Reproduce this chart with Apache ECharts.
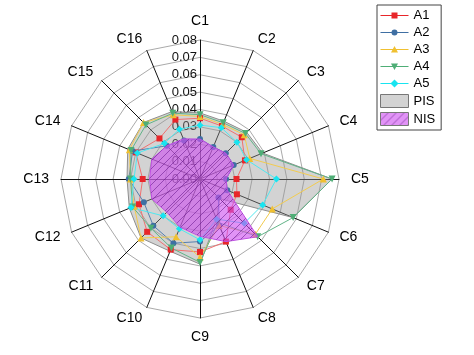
<!DOCTYPE html>
<html><head><meta charset="utf-8">
<script src="https://cdn.jsdelivr.net/npm/echarts@6/dist/echarts.min.js"></script>
<style>html,body{margin:0;padding:0;background:#fff}#c{width:474px;height:355px}</style>
</head><body><div id="c"></div>
<script>
// Categories (clockwise from top)
const categories = ['C1','C2','C3','C4','C5','C6','C7','C8','C9','C10','C11','C12','C13','C14','C15','C16'];
// Radial tick values
const radialTicks = [0.00,0.01,0.02,0.03,0.04,0.05,0.06,0.07,0.08];
// Series values, C1..C16
const A1  = [0.035,0.033,0.034,0.028,0.021,0.023,0.025,0.039,0.042,0.044,0.043,0.038,0.033,0.040,0.033,0.037];
const A2  = [0.023,0.020,0.021,0.021,0.015,0.017,0.015,0.029,0.036,0.040,0.038,0.035,0.041,0.042,0.027,0.024];
const A3  = [0.036,0.034,0.036,0.031,0.071,0.045,0.045,0.029,0.045,0.036,0.048,0.041,0.040,0.044,0.046,0.040];
const A4  = [0.037,0.035,0.037,0.038,0.076,0.058,0.047,0.027,0.048,0.043,0.040,0.042,0.040,0.043,0.044,0.041];
const A5  = [0.031,0.032,0.030,0.029,0.044,0.039,0.036,0.025,0.035,0.031,0.030,0.043,0.038,0.039,0.029,0.031];
const PIS = [0.038,0.036,0.038,0.039,0.076,0.058,0.016,0.025,0.049,0.045,0.048,0.044,0.042,0.045,0.046,0.042];
const NIS = [0.023,0.020,0.021,0.021,0.015,0.017,0.047,0.039,0.033,0.030,0.027,0.030,0.029,0.030,0.027,0.025];
const names = ['A1','A2','A3','A4','A5','PIS','NIS'];

// ECharts radar runs counter-clockwise; reorder so C1..C16 run clockwise
const cw = arr => [arr[0]].concat(arr.slice(1).reverse());

// hatch pattern for NIS
function hatch(){
  const c = document.createElement('canvas'); c.width = 8; c.height = 8;
  const g = c.getContext('2d');
  g.fillStyle = 'rgba(206,80,240,0.62)'; g.fillRect(0,0,8,8);
  g.strokeStyle = 'rgba(100,20,140,0.55)'; g.lineWidth = 1;
  g.beginPath();
  g.moveTo(-1,9); g.lineTo(9,-1);
  g.moveTo(-1,1); g.lineTo(1,-1);
  g.moveTo(7,9); g.lineTo(9,7);
  g.stroke();
  return {image: c, repeat: 'repeat'};
}
const hatchFill = hatch();

const colors = {A1:'#e8262a', A2:'#3f6fa3', A3:'#f0c030', A4:'#4fae76', A5:'#18e4f0'};
const lineColors = {A1:'#f07070', A2:'#5580b0', A3:'#f2cc50', A4:'#62b488', A5:'#50e8f0'};
const symbols = {A1:'rect', A2:'circle', A3:'triangle', A4:'triangle', A5:'diamond'};
const symSize = {A1:6, A2:6, A3:7, A4:7, A5:7};
const data = {A1, A2, A3, A4, A5};

const anchor = 'M0,0L0.01,0L0,0.01Z M28,13L27.99,13L28,12.99Z ';
const lineBar = 'M0,5.9H28V7.1H0Z ';
const iconMark = {
  A1: 'M11,3.5H17V9.5H11Z',
  A2: 'M17,6.5A3,3 0 1 1 11,6.5A3,3 0 1 1 17,6.5Z',
  A3: 'M14,3L17.5,9.5L10.5,9.5Z',
  A4: 'M10.5,3.5L17.5,3.5L14,10Z',
  A5: 'M14,2.5L18,6.5L14,10.5L10,6.5Z'
};

const series = [];
series.push({
  type:'radar', z:2, name:'PIS', symbol:'none',
  lineStyle:{color:'#8c8c8c', width:1},
  itemStyle:{color:'#c8c8c8'},
  areaStyle:{color:'rgba(150,150,150,0.42)', opacity:1},
  data:[{name:'PIS', value: cw(PIS)}]
});
['A1','A2','A3','A4','A5'].forEach(n => {
  series.push({
    type:'radar', z:3, name:n, symbol: symbols[n], symbolSize: symSize[n],
    symbolRotate: n === 'A4' ? 180 : 0,
    lineStyle:{color: lineColors[n], width:1},
    itemStyle:{color: colors[n]},
    data:[{name:n, value: cw(data[n])}]
  });
});
series.push({
  type:'radar', z:4, name:'NIS', symbol:'none',
  lineStyle:{color:'#b850dc', width:1},
  itemStyle:{color:'#d070f0'},
  areaStyle:{color: hatchFill, opacity:1},
  data:[{name:'NIS', value: cw(NIS)}]
});

const legendData = names.map(n => {
  if (n === 'PIS') return {name:n, icon:'rect', itemStyle:{color:'#d3d3d3', borderColor:'#777', borderWidth:1}};
  if (n === 'NIS') return {name:n, icon:'rect', itemStyle:{color: hatchFill, borderColor:'#777', borderWidth:1}};
  return {name:n, icon:'path://' + anchor + lineBar + iconMark[n],
    itemStyle:{color: colors[n], borderWidth:0}};
});

const chart = echarts.init(document.getElementById('c'), null, {renderer:'canvas'});
chart.setOption({
  animation:false,
  backgroundColor:'#fff',
  textStyle:{fontFamily:'Liberation Sans, Arial, sans-serif'},
  legend:{
    orient:'vertical', left:377, top:5,
    padding:[4,6,4,3], itemWidth:28, itemHeight:13, itemGap:4,
    borderColor:'#444', borderWidth:1, backgroundColor:'#fff',
    textStyle:{fontSize:13, color:'#000', fontFamily:'Liberation Sans, Arial, sans-serif'},
    selectedMode:false,
    data: legendData
  },
  radar:{
    center:[200,179], radius:139, startAngle:90, shape:'polygon', splitNumber:8,
    indicator: cw(categories).map(n => ({name:n, min:radialTicks[0], max:radialTicks[radialTicks.length-1]})),
    axisName:{color:'#000', fontSize:14, fontFamily:'Liberation Sans, Arial, sans-serif'},
    nameGap:12,
    axisLine:{lineStyle:{color:'#111', width:1}},
    splitLine:{lineStyle:{color:'#aaaaaa', width:1}},
    splitArea:{show:false},
    axisTick:{show:false},
    axisLabel:{show:false}
  },
  grid:{left:200, top:40, width:1, height:139, containLabel:false},
  xAxis:{type:'value', show:false},
  yAxis:{
    type:'value', min:radialTicks[0], max:radialTicks[radialTicks.length-1], interval:0.01,
    axisLine:{show:false}, axisTick:{show:false}, splitLine:{show:false},
    axisLabel:{margin:3, fontSize:13, color:'#111', formatter: v => v.toFixed(2), fontFamily:'Liberation Sans, Arial, sans-serif'}
  },
  series
});
</script></body></html>
